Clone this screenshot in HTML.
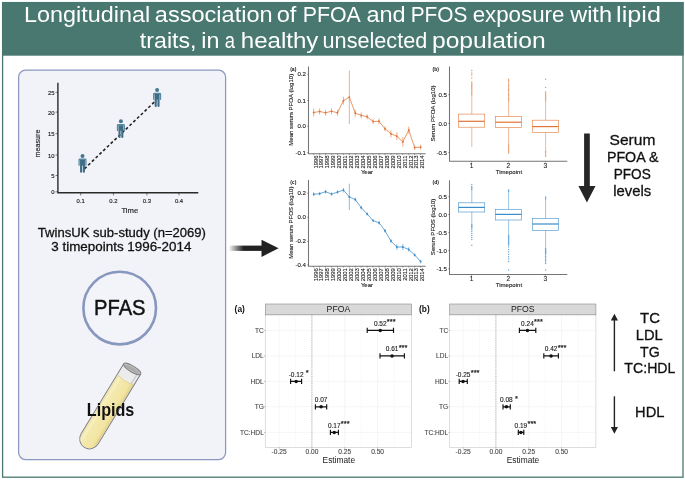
<!DOCTYPE html>
<html lang="en"><head><meta charset="utf-8"><title>Longitudinal association of PFOA and PFOS exposure with lipid traits</title>
<style>
html,body{margin:0;padding:0;background:#fff;}
body{width:685px;height:480px;overflow:hidden;}
svg{display:block;}
text{font-family:"Liberation Sans",sans-serif;}
.ax{font-size:6.15px;fill:#1a1a1a;stroke:#1a1a1a;stroke-width:0.12px;}
.axl{font-size:6.05px;fill:#1a1a1a;stroke:#1a1a1a;stroke-width:0.12px;}
.fl{font-size:6.6px;fill:#444;stroke:#444;stroke-width:0.1px;}
.fv{font-size:6.5px;fill:#1a1a1a;stroke:#1a1a1a;stroke-width:0.12px;}
</style></head><body>
<svg width="685" height="480" viewBox="0 0 685 480">
<defs>
<linearGradient id="fade" x1="0" x2="1" y1="0" y2="0"><stop offset="0" stop-color="#222" stop-opacity="0"/><stop offset="0.44" stop-color="#222" stop-opacity="1"/></linearGradient>
<linearGradient id="liq" x1="0" x2="1" y1="0" y2="0"><stop offset="0" stop-color="#efdf98"/><stop offset="0.14" stop-color="#f8f0c4"/><stop offset="0.3" stop-color="#f4e9ad"/><stop offset="0.8" stop-color="#f2e5a3"/><stop offset="1" stop-color="#e4d084"/></linearGradient>
</defs>
<rect x="0" y="0" width="685" height="480" fill="#fff"/>

<rect x="2.6" y="2.6" width="680.4" height="474.6" fill="none" stroke="#48786f" stroke-width="1.3"/>
<rect x="2" y="2" width="681.6" height="53.7" fill="#48786f"/>
<text x="24.10" y="22.1" font-size="22.8" fill="#fff" textLength="126.12" lengthAdjust="spacingAndGlyphs">Longitudinal</text>
<text x="154.89" y="22.1" font-size="22.8" fill="#fff" textLength="117.69" lengthAdjust="spacingAndGlyphs">association</text>
<text x="276.69" y="22.1" font-size="22.8" fill="#fff" textLength="19.74" lengthAdjust="spacingAndGlyphs">of</text>
<text x="302.71" y="22.1" font-size="22.8" fill="#fff" textLength="58.12" lengthAdjust="spacingAndGlyphs">PFOA</text>
<text x="366.40" y="22.1" font-size="22.8" fill="#fff" textLength="39.29" lengthAdjust="spacingAndGlyphs">and</text>
<text x="410.72" y="22.1" font-size="22.8" fill="#fff" textLength="56.71" lengthAdjust="spacingAndGlyphs">PFOS</text>
<text x="472.63" y="22.1" font-size="22.8" fill="#fff" textLength="91.76" lengthAdjust="spacingAndGlyphs">exposure</text>
<text x="570.16" y="22.1" font-size="22.8" fill="#fff" textLength="41.83" lengthAdjust="spacingAndGlyphs">with</text>
<text x="616.10" y="22.1" font-size="22.8" fill="#fff" textLength="44.80" lengthAdjust="spacingAndGlyphs">lipid</text>
<text x="139.87" y="47.6" font-size="22.8" fill="#fff" textLength="56.67" lengthAdjust="spacingAndGlyphs">traits,</text>
<text x="201.37" y="47.6" font-size="22.8" fill="#fff" textLength="18.14" lengthAdjust="spacingAndGlyphs">in</text>
<text x="224.67" y="47.6" font-size="22.8" fill="#fff" textLength="10.23" lengthAdjust="spacingAndGlyphs">a</text>
<text x="240.75" y="47.6" font-size="22.8" fill="#fff" textLength="77.67" lengthAdjust="spacingAndGlyphs">healthy</text>
<text x="322.57" y="47.6" font-size="22.8" fill="#fff" textLength="104.71" lengthAdjust="spacingAndGlyphs">unselected</text>
<text x="431.98" y="47.6" font-size="22.8" fill="#fff" textLength="113.71" lengthAdjust="spacingAndGlyphs">population</text>
<rect x="18.6" y="70.2" width="207" height="389.4" rx="7" ry="7" fill="#f2f3f9" stroke="#8a97c0" stroke-width="1.25"/>
<g stroke="#2a2a2a" stroke-width="1.4" fill="none"><path d="M57.9 82.7V192.8H198.3"/></g>
<path d="M80.7 193v2.4M113.4 193v2.4M146.9 193v2.4M179 193v2.4" stroke="#2a2a2a" stroke-width="0.6" fill="none"/>
<path d="M55.5 92.3H57.9" stroke="#2a2a2a" stroke-width="0.6"/>
<text x="54.6" y="94.89999999999999" text-anchor="end" font-size="5.9" fill="#222" stroke="#222" stroke-width="0.15">25</text>
<path d="M55.5 112.1H57.9" stroke="#2a2a2a" stroke-width="0.6"/>
<text x="54.6" y="114.69999999999999" text-anchor="end" font-size="5.9" fill="#222" stroke="#222" stroke-width="0.15">20</text>
<path d="M55.5 133.7H57.9" stroke="#2a2a2a" stroke-width="0.6"/>
<text x="54.6" y="136.29999999999998" text-anchor="end" font-size="5.9" fill="#222" stroke="#222" stroke-width="0.15">15</text>
<path d="M55.5 155H57.9" stroke="#2a2a2a" stroke-width="0.6"/>
<text x="54.6" y="157.6" text-anchor="end" font-size="5.9" fill="#222" stroke="#222" stroke-width="0.15">10</text>
<path d="M55.5 175.5H57.9" stroke="#2a2a2a" stroke-width="0.6"/>
<text x="54.6" y="178.1" text-anchor="end" font-size="5.9" fill="#222" stroke="#222" stroke-width="0.15">5</text>
<path d="M55.5 191.8H57.9" stroke="#2a2a2a" stroke-width="0.6"/>
<text x="54.6" y="194.4" text-anchor="end" font-size="5.9" fill="#222" stroke="#222" stroke-width="0.15">0</text>
<text x="80.7" y="203.4" text-anchor="middle" font-size="5.9" fill="#222" stroke="#222" stroke-width="0.15">0.1</text>
<text x="113.4" y="203.4" text-anchor="middle" font-size="5.9" fill="#222" stroke="#222" stroke-width="0.15">0.2</text>
<text x="146.9" y="203.4" text-anchor="middle" font-size="5.9" fill="#222" stroke="#222" stroke-width="0.15">0.3</text>
<text x="179" y="203.4" text-anchor="middle" font-size="5.9" fill="#222" stroke="#222" stroke-width="0.15">0.4</text>
<text x="129.8" y="213.4" text-anchor="middle" font-size="7.7" fill="#222" stroke="#222" stroke-width="0.15">Time</text>
<text transform="translate(40.2 143.6) rotate(-90)" text-anchor="middle" font-size="7.2" fill="#222" stroke="#222" stroke-width="0.15">measure</text>
<path d="M84.4 168.8L156.3 100.2" stroke="#222" stroke-width="1.6" stroke-dasharray="2.9 2.3" fill="none"/>
<g transform="translate(82.5 154.00)"><circle cx="0" cy="2" r="2" fill="#47778f"/><path d="M-4.05 5.9q0-1.3 1.3-1.3h5.5q1.3 0 1.3 1.3v5.3q0 .65-.65.65t-.65-.65v-4.9h-5.5v4.9q0 .65-.65.65t-.65-.65z" fill="#5989a3"/><path d="M-2.45 6h4.9v11.8q0 1-1.05 1t-1.05-1v-6.3h-.7v6.3q0 1-1.05 1t-1.05-1z" fill="#3f6d85"/></g>
<g transform="translate(120.9 119.30)"><circle cx="0" cy="2" r="2" fill="#47778f"/><path d="M-4.05 5.9q0-1.3 1.3-1.3h5.5q1.3 0 1.3 1.3v5.3q0 .65-.65.65t-.65-.65v-4.9h-5.5v4.9q0 .65-.65.65t-.65-.65z" fill="#5989a3"/><path d="M-2.45 6h4.9v11.8q0 1-1.05 1t-1.05-1v-6.3h-.7v6.3q0 1-1.05 1t-1.05-1z" fill="#3f6d85"/></g>
<g transform="translate(157.1 88.10)"><circle cx="0" cy="2" r="2" fill="#47778f"/><path d="M-4.05 5.9q0-1.3 1.3-1.3h5.5q1.3 0 1.3 1.3v5.3q0 .65-.65.65t-.65-.65v-4.9h-5.5v4.9q0 .65-.65.65t-.65-.65z" fill="#5989a3"/><path d="M-2.45 6h4.9v11.8q0 1-1.05 1t-1.05-1v-6.3h-.7v6.3q0 1-1.05 1t-1.05-1z" fill="#3f6d85"/></g>
<text x="37.86" y="237.2" font-size="13.6" fill="#111" stroke="#111" stroke-width="0.3" textLength="168.09" lengthAdjust="spacingAndGlyphs">TwinsUK sub-study (n=2069)</text>
<text x="51.34" y="251.0" font-size="13.6" fill="#111" stroke="#111" stroke-width="0.3" textLength="140.07" lengthAdjust="spacingAndGlyphs">3 timepoints 1996-2014</text>
<circle cx="119.7" cy="308.1" r="36.3" fill="#f3f4fa" stroke="#8797be" stroke-width="2.6"/>
<text x="94.02" y="314.5" font-size="22" fill="#111" stroke="#111" stroke-width="0.45" textLength="51.52" lengthAdjust="spacingAndGlyphs">PFAS</text>
<g transform="translate(132.2 368.9) rotate(31.3)">
<path d="M-9.9 0V82a9.9 9.9 0 0 0 19.8 0V0z" fill="#ececec" stroke="#808080" stroke-width="1"/>
<path d="M-9.2 12.5q9.2 3.2 18.4 0V82a9.2 9.2 0 0 1-18.4 0z" fill="url(#liq)"/>
<path d="M-9.2 12.5q9.2 3.2 18.4 0" fill="none" stroke="#dccb80" stroke-width="0.6"/>
<path d="M6.9 3V13.5" stroke="#cfcfcf" stroke-width="1.6"/>
<ellipse cx="0" cy="0" rx="9.9" ry="3" fill="#c4c4c4" stroke="#808080" stroke-width="1"/>
<ellipse cx="0" cy="0.2" rx="8.2" ry="1.8" fill="#ababab"/>
</g>
<text x="86.80" y="415.5" font-size="17.8" fill="#111" font-weight="bold" textLength="47.52" lengthAdjust="spacingAndGlyphs">Lipids</text>
<rect x="228.7" y="245.6" width="34" height="5.3" fill="url(#fade)"/>
<path d="M261.5 239.8L278.6 248.3L261.5 256.9z" fill="#222"/>
<path d="M584.1 133.5H589.8V186H595.5L586.9 202.6L578.4 186H584.1z" fill="#262626"/>
<text x="609.57" y="145.3" font-size="15.4" fill="#111" stroke="#111" stroke-width="0.3" textLength="45.82" lengthAdjust="spacingAndGlyphs">Serum</text>
<text x="606.92" y="162.3" font-size="15.4" fill="#111" stroke="#111" stroke-width="0.3" textLength="51.50" lengthAdjust="spacingAndGlyphs">PFOA &amp;</text>
<text x="613.72" y="179" font-size="15.4" fill="#111" stroke="#111" stroke-width="0.3" textLength="37.06" lengthAdjust="spacingAndGlyphs">PFOS</text>
<text x="613.28" y="195.6" font-size="15.4" fill="#111" stroke="#111" stroke-width="0.3" textLength="38.03" lengthAdjust="spacingAndGlyphs">levels</text>
<g stroke="#222" stroke-width="1.4" fill="#222"><path d="M614.4 318V371.3" fill="none"/><path d="M614.4 313.8L618 320.5H610.8z" stroke="none"/><path d="M614.4 396.3V429.5" fill="none"/><path d="M614.4 433.8L618 427H610.8z" stroke="none"/></g>
<text x="640.04" y="322.8" font-size="15.4" fill="#111" stroke="#111" stroke-width="0.3" textLength="19.90" lengthAdjust="spacingAndGlyphs">TC</text>
<text x="635.79" y="339.9" font-size="15.4" fill="#111" stroke="#111" stroke-width="0.3" textLength="27.00" lengthAdjust="spacingAndGlyphs">LDL</text>
<text x="640.00" y="356.7" font-size="15.4" fill="#111" stroke="#111" stroke-width="0.3" textLength="19.65" lengthAdjust="spacingAndGlyphs">TG</text>
<text x="624.37" y="373.1" font-size="15.4" fill="#111" stroke="#111" stroke-width="0.3" textLength="51.05" lengthAdjust="spacingAndGlyphs">TC:HDL</text>
<text x="635.11" y="416.9" font-size="15.4" fill="#111" stroke="#111" stroke-width="0.3" textLength="29.40" lengthAdjust="spacingAndGlyphs">HDL</text>
<path d="M308.5 66.6V153.7H425.6" stroke="#757575" stroke-width="1.05" fill="none"/>
<path d="M307.0 74.2H308.5" stroke="#333" stroke-width="0.4"/>
<text x="306.0" y="76.3" text-anchor="end" class="ax">0.2</text>
<path d="M307.0 100.5H308.5" stroke="#333" stroke-width="0.4"/>
<text x="306.0" y="102.6" text-anchor="end" class="ax">0.1</text>
<path d="M307.0 126.3H308.5" stroke="#333" stroke-width="0.4"/>
<text x="306.0" y="128.4" text-anchor="end" class="ax">0.0</text>
<path d="M307.0 152.6H308.5" stroke="#333" stroke-width="0.4"/>
<text x="306.0" y="154.7" text-anchor="end" class="ax">-0.1</text>
<path d="M313.70 153.7v1.4" stroke="#333" stroke-width="0.4"/>
<text transform="translate(317.50 155.6) rotate(-90)" text-anchor="end" class="ax" style="font-size:5.85px">1996</text>
<path d="M319.64 153.7v1.4" stroke="#333" stroke-width="0.4"/>
<text transform="translate(323.44 155.6) rotate(-90)" text-anchor="end" class="ax" style="font-size:5.85px">1997</text>
<path d="M325.58 153.7v1.4" stroke="#333" stroke-width="0.4"/>
<text transform="translate(329.38 155.6) rotate(-90)" text-anchor="end" class="ax" style="font-size:5.85px">1998</text>
<path d="M331.52 153.7v1.4" stroke="#333" stroke-width="0.4"/>
<text transform="translate(335.32 155.6) rotate(-90)" text-anchor="end" class="ax" style="font-size:5.85px">1999</text>
<path d="M337.46 153.7v1.4" stroke="#333" stroke-width="0.4"/>
<text transform="translate(341.26 155.6) rotate(-90)" text-anchor="end" class="ax" style="font-size:5.85px">2000</text>
<path d="M343.40 153.7v1.4" stroke="#333" stroke-width="0.4"/>
<text transform="translate(347.20 155.6) rotate(-90)" text-anchor="end" class="ax" style="font-size:5.85px">2001</text>
<path d="M349.34 153.7v1.4" stroke="#333" stroke-width="0.4"/>
<text transform="translate(353.14 155.6) rotate(-90)" text-anchor="end" class="ax" style="font-size:5.85px">2002</text>
<path d="M355.28 153.7v1.4" stroke="#333" stroke-width="0.4"/>
<text transform="translate(359.08 155.6) rotate(-90)" text-anchor="end" class="ax" style="font-size:5.85px">2003</text>
<path d="M361.22 153.7v1.4" stroke="#333" stroke-width="0.4"/>
<text transform="translate(365.02 155.6) rotate(-90)" text-anchor="end" class="ax" style="font-size:5.85px">2004</text>
<path d="M367.16 153.7v1.4" stroke="#333" stroke-width="0.4"/>
<text transform="translate(370.96 155.6) rotate(-90)" text-anchor="end" class="ax" style="font-size:5.85px">2005</text>
<path d="M373.10 153.7v1.4" stroke="#333" stroke-width="0.4"/>
<text transform="translate(376.90 155.6) rotate(-90)" text-anchor="end" class="ax" style="font-size:5.85px">2006</text>
<path d="M379.04 153.7v1.4" stroke="#333" stroke-width="0.4"/>
<text transform="translate(382.84 155.6) rotate(-90)" text-anchor="end" class="ax" style="font-size:5.85px">2007</text>
<path d="M384.98 153.7v1.4" stroke="#333" stroke-width="0.4"/>
<text transform="translate(388.78 155.6) rotate(-90)" text-anchor="end" class="ax" style="font-size:5.85px">2008</text>
<path d="M390.92 153.7v1.4" stroke="#333" stroke-width="0.4"/>
<text transform="translate(394.72 155.6) rotate(-90)" text-anchor="end" class="ax" style="font-size:5.85px">2009</text>
<path d="M396.86 153.7v1.4" stroke="#333" stroke-width="0.4"/>
<text transform="translate(400.66 155.6) rotate(-90)" text-anchor="end" class="ax" style="font-size:5.85px">2010</text>
<path d="M402.80 153.7v1.4" stroke="#333" stroke-width="0.4"/>
<text transform="translate(406.60 155.6) rotate(-90)" text-anchor="end" class="ax" style="font-size:5.85px">2011</text>
<path d="M408.74 153.7v1.4" stroke="#333" stroke-width="0.4"/>
<text transform="translate(412.54 155.6) rotate(-90)" text-anchor="end" class="ax" style="font-size:5.85px">2012</text>
<path d="M414.68 153.7v1.4" stroke="#333" stroke-width="0.4"/>
<text transform="translate(418.48 155.6) rotate(-90)" text-anchor="end" class="ax" style="font-size:5.85px">2013</text>
<path d="M420.62 153.7v1.4" stroke="#333" stroke-width="0.4"/>
<text transform="translate(424.42 155.6) rotate(-90)" text-anchor="end" class="ax" style="font-size:5.85px">2014</text>
<text x="367" y="173.8" text-anchor="middle" class="axl">Year</text>
<text transform="translate(292.7 109.74999999999999) rotate(-90)" text-anchor="middle" class="axl">Mean serum PFOA (log10)</text>
<text x="290.2" y="70.5" font-size="5" font-weight="bold" fill="#111">(a)</text>
<path d="M313.70 112.55L319.64 111.46L325.58 112.77L331.52 111.24L337.46 112.77L343.40 100.73L349.34 97.22L355.28 113.21L361.22 115.40L367.16 116.71L373.10 121.53L379.04 121.31L384.98 128.75L390.92 133.79L396.86 136.20L402.80 141.89L408.74 130.07L414.68 147.58L420.62 147.15" stroke="#e17538" stroke-width="0.75" fill="none"/>
<path d="M313.70 108.55V116.55M319.64 108.46V114.46M325.58 109.77V115.77M331.52 108.24V114.24M337.46 109.77V115.77M343.40 96.73V104.73M349.34 70.52V123.92M355.28 109.71V116.71M361.22 112.40V118.40M367.16 114.21V119.21M373.10 119.03V124.03M379.04 118.31V124.31M384.98 126.25V131.25M390.92 130.29V137.29M396.86 132.20V140.20M402.80 136.89V146.89M408.74 126.57V133.57M414.68 145.08V150.08M420.62 144.65V149.65" stroke="#e17538" stroke-width="0.7" fill="none" opacity="0.85"/>
<g fill="#e17538"><circle cx="313.70" cy="112.55" r="0.95"/><circle cx="319.64" cy="111.46" r="0.95"/><circle cx="325.58" cy="112.77" r="0.95"/><circle cx="331.52" cy="111.24" r="0.95"/><circle cx="337.46" cy="112.77" r="0.95"/><circle cx="343.40" cy="100.73" r="0.95"/><circle cx="349.34" cy="97.22" r="0.95"/><circle cx="355.28" cy="113.21" r="0.95"/><circle cx="361.22" cy="115.40" r="0.95"/><circle cx="367.16" cy="116.71" r="0.95"/><circle cx="373.10" cy="121.53" r="0.95"/><circle cx="379.04" cy="121.31" r="0.95"/><circle cx="384.98" cy="128.75" r="0.95"/><circle cx="390.92" cy="133.79" r="0.95"/><circle cx="396.86" cy="136.20" r="0.95"/><circle cx="402.80" cy="141.89" r="0.95"/><circle cx="408.74" cy="130.07" r="0.95"/><circle cx="414.68" cy="147.58" r="0.95"/><circle cx="420.62" cy="147.15" r="0.95"/></g>
<path d="M308.5 179.9V266.3H425.6" stroke="#757575" stroke-width="1.05" fill="none"/>
<path d="M307.0 193.2H308.5" stroke="#333" stroke-width="0.4"/>
<text x="306.0" y="195.29999999999998" text-anchor="end" class="ax">0.2</text>
<path d="M307.0 217.2H308.5" stroke="#333" stroke-width="0.4"/>
<text x="306.0" y="219.29999999999998" text-anchor="end" class="ax">0.0</text>
<path d="M307.0 241.3H308.5" stroke="#333" stroke-width="0.4"/>
<text x="306.0" y="243.4" text-anchor="end" class="ax">-0.2</text>
<path d="M307.0 265H308.5" stroke="#333" stroke-width="0.4"/>
<text x="306.0" y="267.1" text-anchor="end" class="ax">-0.4</text>
<path d="M313.70 266.3v1.4" stroke="#333" stroke-width="0.4"/>
<text transform="translate(317.50 268.2) rotate(-90)" text-anchor="end" class="ax" style="font-size:5.85px">1996</text>
<path d="M319.64 266.3v1.4" stroke="#333" stroke-width="0.4"/>
<text transform="translate(323.44 268.2) rotate(-90)" text-anchor="end" class="ax" style="font-size:5.85px">1997</text>
<path d="M325.58 266.3v1.4" stroke="#333" stroke-width="0.4"/>
<text transform="translate(329.38 268.2) rotate(-90)" text-anchor="end" class="ax" style="font-size:5.85px">1998</text>
<path d="M331.52 266.3v1.4" stroke="#333" stroke-width="0.4"/>
<text transform="translate(335.32 268.2) rotate(-90)" text-anchor="end" class="ax" style="font-size:5.85px">1999</text>
<path d="M337.46 266.3v1.4" stroke="#333" stroke-width="0.4"/>
<text transform="translate(341.26 268.2) rotate(-90)" text-anchor="end" class="ax" style="font-size:5.85px">2000</text>
<path d="M343.40 266.3v1.4" stroke="#333" stroke-width="0.4"/>
<text transform="translate(347.20 268.2) rotate(-90)" text-anchor="end" class="ax" style="font-size:5.85px">2001</text>
<path d="M349.34 266.3v1.4" stroke="#333" stroke-width="0.4"/>
<text transform="translate(353.14 268.2) rotate(-90)" text-anchor="end" class="ax" style="font-size:5.85px">2002</text>
<path d="M355.28 266.3v1.4" stroke="#333" stroke-width="0.4"/>
<text transform="translate(359.08 268.2) rotate(-90)" text-anchor="end" class="ax" style="font-size:5.85px">2003</text>
<path d="M361.22 266.3v1.4" stroke="#333" stroke-width="0.4"/>
<text transform="translate(365.02 268.2) rotate(-90)" text-anchor="end" class="ax" style="font-size:5.85px">2004</text>
<path d="M367.16 266.3v1.4" stroke="#333" stroke-width="0.4"/>
<text transform="translate(370.96 268.2) rotate(-90)" text-anchor="end" class="ax" style="font-size:5.85px">2005</text>
<path d="M373.10 266.3v1.4" stroke="#333" stroke-width="0.4"/>
<text transform="translate(376.90 268.2) rotate(-90)" text-anchor="end" class="ax" style="font-size:5.85px">2006</text>
<path d="M379.04 266.3v1.4" stroke="#333" stroke-width="0.4"/>
<text transform="translate(382.84 268.2) rotate(-90)" text-anchor="end" class="ax" style="font-size:5.85px">2007</text>
<path d="M384.98 266.3v1.4" stroke="#333" stroke-width="0.4"/>
<text transform="translate(388.78 268.2) rotate(-90)" text-anchor="end" class="ax" style="font-size:5.85px">2008</text>
<path d="M390.92 266.3v1.4" stroke="#333" stroke-width="0.4"/>
<text transform="translate(394.72 268.2) rotate(-90)" text-anchor="end" class="ax" style="font-size:5.85px">2009</text>
<path d="M396.86 266.3v1.4" stroke="#333" stroke-width="0.4"/>
<text transform="translate(400.66 268.2) rotate(-90)" text-anchor="end" class="ax" style="font-size:5.85px">2010</text>
<path d="M402.80 266.3v1.4" stroke="#333" stroke-width="0.4"/>
<text transform="translate(406.60 268.2) rotate(-90)" text-anchor="end" class="ax" style="font-size:5.85px">2011</text>
<path d="M408.74 266.3v1.4" stroke="#333" stroke-width="0.4"/>
<text transform="translate(412.54 268.2) rotate(-90)" text-anchor="end" class="ax" style="font-size:5.85px">2012</text>
<path d="M414.68 266.3v1.4" stroke="#333" stroke-width="0.4"/>
<text transform="translate(418.48 268.2) rotate(-90)" text-anchor="end" class="ax" style="font-size:5.85px">2013</text>
<path d="M420.62 266.3v1.4" stroke="#333" stroke-width="0.4"/>
<text transform="translate(424.42 268.2) rotate(-90)" text-anchor="end" class="ax" style="font-size:5.85px">2014</text>
<text x="367" y="287" text-anchor="middle" class="axl">Year</text>
<text transform="translate(292.7 222.70000000000002) rotate(-90)" text-anchor="middle" class="axl">Mean serum PFOS (log10)</text>
<text x="290.2" y="183.8" font-size="5" font-weight="bold" fill="#111">(c)</text>
<path d="M313.70 194.30L319.64 193.65L325.58 191.68L331.52 194.08L337.46 192.11L343.40 190.14L349.34 196.93L355.28 199.56L361.22 207.66L367.16 214.01L373.10 220.58L379.04 222.77L384.98 230.70L390.92 241.00L396.86 247.00L402.80 247.00L408.74 249.50L414.68 255.00L420.62 261.50" stroke="#3a8dcc" stroke-width="0.75" fill="none"/>
<path d="M313.70 192.30V196.30M319.64 191.85V195.45M325.58 189.88V193.48M331.52 192.28V195.88M337.46 190.31V193.91M343.40 187.84V192.44M349.34 183.73V210.13M355.28 197.56V201.56M361.22 205.86V209.46M367.16 212.41V215.61M373.10 218.98V222.18M379.04 220.97V224.57M384.98 228.90V232.50M390.92 238.80V243.20M396.86 244.20V249.80M402.80 244.00V250.00M408.74 247.30V251.70M414.68 253.40V256.60M420.62 259.70V263.30" stroke="#3a8dcc" stroke-width="0.7" fill="none" opacity="0.85"/>
<g fill="#3a8dcc"><circle cx="313.70" cy="194.30" r="0.95"/><circle cx="319.64" cy="193.65" r="0.95"/><circle cx="325.58" cy="191.68" r="0.95"/><circle cx="331.52" cy="194.08" r="0.95"/><circle cx="337.46" cy="192.11" r="0.95"/><circle cx="343.40" cy="190.14" r="0.95"/><circle cx="349.34" cy="196.93" r="0.95"/><circle cx="355.28" cy="199.56" r="0.95"/><circle cx="361.22" cy="207.66" r="0.95"/><circle cx="367.16" cy="214.01" r="0.95"/><circle cx="373.10" cy="220.58" r="0.95"/><circle cx="379.04" cy="222.77" r="0.95"/><circle cx="384.98" cy="230.70" r="0.95"/><circle cx="390.92" cy="241.00" r="0.95"/><circle cx="396.86" cy="247.00" r="0.95"/><circle cx="402.80" cy="247.00" r="0.95"/><circle cx="408.74" cy="249.50" r="0.95"/><circle cx="414.68" cy="255.00" r="0.95"/><circle cx="420.62" cy="261.50" r="0.95"/></g>
<path d="M449.5 66.6V161.2H567.3" stroke="#757575" stroke-width="1.05" fill="none"/>
<path d="M448.0 94.6H449.5" stroke="#333" stroke-width="0.4"/>
<text x="447.0" y="96.69999999999999" text-anchor="end" class="ax">0.5</text>
<path d="M448.0 123.5H449.5" stroke="#333" stroke-width="0.4"/>
<text x="447.0" y="125.6" text-anchor="end" class="ax">0.0</text>
<path d="M448.0 152.6H449.5" stroke="#333" stroke-width="0.4"/>
<text x="447.0" y="154.7" text-anchor="end" class="ax">-0.5</text>
<path d="M471.6 161.2v1.4" stroke="#333" stroke-width="0.4"/>
<text x="471.6" y="167.6" text-anchor="middle" font-size="6.6" fill="#1a1a1a" stroke="#1a1a1a" stroke-width="0.1">1</text>
<path d="M508.4 161.2v1.4" stroke="#333" stroke-width="0.4"/>
<text x="508.4" y="167.6" text-anchor="middle" font-size="6.6" fill="#1a1a1a" stroke="#1a1a1a" stroke-width="0.1">2</text>
<path d="M545.4 161.2v1.4" stroke="#333" stroke-width="0.4"/>
<text x="545.4" y="167.6" text-anchor="middle" font-size="6.6" fill="#1a1a1a" stroke="#1a1a1a" stroke-width="0.1">3</text>
<text x="508.9" y="173.6" text-anchor="middle" class="axl">Timepoint</text>
<text transform="translate(435.4 113.49999999999999) rotate(-90)" text-anchor="middle" class="axl">Serum PFOA (log10)</text>
<text x="432.5" y="70.5" font-size="5" font-weight="bold" fill="#111">(b)</text>
<path d="M471.8 95V114.1M471.8 127.2V147" stroke="#e17538" stroke-width="0.6" fill="none" opacity="0.85"/>
<rect x="458.5" y="114.1" width="26.2" height="13.10" fill="#fff" stroke="#e17538" stroke-width="0.65" opacity="0.9"/>
<path d="M458.5 121.3H484.70000000000005" stroke="#e17538" stroke-width="1.2"/>
<g fill="#e17538" opacity="0.75"><circle cx="471.8" cy="70.50" r="0.72"/><circle cx="471.8" cy="73.00" r="0.72"/><circle cx="471.8" cy="75.00" r="0.72"/><circle cx="471.8" cy="78.00" r="0.72"/><circle cx="471.8" cy="82.00" r="0.72"/><circle cx="471.8" cy="83.14" r="0.72"/><circle cx="471.8" cy="84.27" r="0.72"/><circle cx="471.8" cy="85.41" r="0.72"/><circle cx="471.8" cy="86.55" r="0.72"/><circle cx="471.8" cy="87.68" r="0.72"/><circle cx="471.8" cy="88.82" r="0.72"/><circle cx="471.8" cy="89.95" r="0.72"/><circle cx="471.8" cy="91.09" r="0.72"/><circle cx="471.8" cy="92.23" r="0.72"/><circle cx="471.8" cy="93.36" r="0.72"/><circle cx="471.8" cy="94.50" r="0.72"/></g>
<path d="M508.59999999999997 101.6V116.5M508.59999999999997 127.4V143.2" stroke="#e17538" stroke-width="0.6" fill="none" opacity="0.85"/>
<rect x="495.29999999999995" y="116.5" width="26.2" height="10.90" fill="#fff" stroke="#e17538" stroke-width="0.65" opacity="0.9"/>
<path d="M495.29999999999995 122.2H521.5" stroke="#e17538" stroke-width="1.2"/>
<g fill="#e17538" opacity="0.75"><circle cx="508.59999999999997" cy="79.30" r="0.72"/><circle cx="508.59999999999997" cy="80.65" r="0.72"/><circle cx="508.59999999999997" cy="82.00" r="0.72"/><circle cx="508.59999999999997" cy="84.00" r="0.72"/><circle cx="508.59999999999997" cy="85.31" r="0.72"/><circle cx="508.59999999999997" cy="86.62" r="0.72"/><circle cx="508.59999999999997" cy="87.92" r="0.72"/><circle cx="508.59999999999997" cy="89.23" r="0.72"/><circle cx="508.59999999999997" cy="90.54" r="0.72"/><circle cx="508.59999999999997" cy="91.85" r="0.72"/><circle cx="508.59999999999997" cy="93.15" r="0.72"/><circle cx="508.59999999999997" cy="94.46" r="0.72"/><circle cx="508.59999999999997" cy="95.77" r="0.72"/><circle cx="508.59999999999997" cy="97.08" r="0.72"/><circle cx="508.59999999999997" cy="98.38" r="0.72"/><circle cx="508.59999999999997" cy="99.69" r="0.72"/><circle cx="508.59999999999997" cy="101.00" r="0.72"/><circle cx="508.59999999999997" cy="144.00" r="0.72"/><circle cx="508.59999999999997" cy="145.33" r="0.72"/><circle cx="508.59999999999997" cy="146.67" r="0.72"/><circle cx="508.59999999999997" cy="148.00" r="0.72"/><circle cx="508.59999999999997" cy="149.00" r="0.72"/><circle cx="508.59999999999997" cy="150.00" r="0.72"/><circle cx="508.59999999999997" cy="151.00" r="0.72"/><circle cx="508.59999999999997" cy="152.00" r="0.72"/><circle cx="508.59999999999997" cy="153.00" r="0.72"/></g>
<path d="M545.6 101.6V120.2M545.6 132.5V150.9" stroke="#e17538" stroke-width="0.6" fill="none" opacity="0.85"/>
<rect x="532.3" y="120.2" width="26.2" height="12.30" fill="#fff" stroke="#e17538" stroke-width="0.65" opacity="0.9"/>
<path d="M532.3 126.6H558.5" stroke="#e17538" stroke-width="1.2"/>
<g fill="#e17538" opacity="0.75"><circle cx="545.6" cy="79.30" r="0.72"/><circle cx="545.6" cy="87.40" r="0.72"/><circle cx="545.6" cy="92.00" r="0.72"/><circle cx="545.6" cy="93.00" r="0.72"/><circle cx="545.6" cy="94.00" r="0.72"/><circle cx="545.6" cy="95.00" r="0.72"/><circle cx="545.6" cy="96.00" r="0.72"/><circle cx="545.6" cy="97.00" r="0.72"/><circle cx="545.6" cy="98.00" r="0.72"/><circle cx="545.6" cy="99.00" r="0.72"/><circle cx="545.6" cy="100.00" r="0.72"/><circle cx="545.6" cy="101.00" r="0.72"/><circle cx="545.6" cy="151.50" r="0.72"/><circle cx="545.6" cy="152.70" r="0.72"/><circle cx="545.6" cy="153.90" r="0.72"/><circle cx="545.6" cy="155.10" r="0.72"/><circle cx="545.6" cy="156.30" r="0.72"/></g>
<path d="M449.5 180.2V274.4H567.3" stroke="#757575" stroke-width="1.05" fill="none"/>
<path d="M448.0 196.6H449.5" stroke="#333" stroke-width="0.4"/>
<text x="447.0" y="198.7" text-anchor="end" class="ax">0.5</text>
<path d="M448.0 214.5H449.5" stroke="#333" stroke-width="0.4"/>
<text x="447.0" y="216.6" text-anchor="end" class="ax">0.0</text>
<path d="M448.0 232.6H449.5" stroke="#333" stroke-width="0.4"/>
<text x="447.0" y="234.7" text-anchor="end" class="ax">-0.5</text>
<path d="M448.0 250.6H449.5" stroke="#333" stroke-width="0.4"/>
<text x="447.0" y="252.7" text-anchor="end" class="ax">-1.0</text>
<path d="M448.0 268.8H449.5" stroke="#333" stroke-width="0.4"/>
<text x="447.0" y="270.90000000000003" text-anchor="end" class="ax">-1.5</text>
<path d="M471.6 274.4v1.4" stroke="#333" stroke-width="0.4"/>
<text x="471.6" y="280.79999999999995" text-anchor="middle" font-size="6.6" fill="#1a1a1a" stroke="#1a1a1a" stroke-width="0.1">1</text>
<path d="M508.4 274.4v1.4" stroke="#333" stroke-width="0.4"/>
<text x="508.4" y="280.79999999999995" text-anchor="middle" font-size="6.6" fill="#1a1a1a" stroke="#1a1a1a" stroke-width="0.1">2</text>
<path d="M545.4 274.4v1.4" stroke="#333" stroke-width="0.4"/>
<text x="545.4" y="280.79999999999995" text-anchor="middle" font-size="6.6" fill="#1a1a1a" stroke="#1a1a1a" stroke-width="0.1">3</text>
<text x="508.9" y="286.8" text-anchor="middle" class="axl">Timepoint</text>
<text transform="translate(435.4 226.89999999999998) rotate(-90)" text-anchor="middle" class="axl">Serum PFOS (log10)</text>
<text x="432.5" y="184.1" font-size="5" font-weight="bold" fill="#111">(d)</text>
<path d="M471.8 189.9V202.8M471.8 212V224.1" stroke="#3a8dcc" stroke-width="0.6" fill="none" opacity="0.85"/>
<rect x="458.5" y="202.8" width="26.2" height="9.20" fill="#fff" stroke="#3a8dcc" stroke-width="0.65" opacity="0.9"/>
<path d="M458.5 207.4H484.70000000000005" stroke="#3a8dcc" stroke-width="1.2"/>
<g fill="#3a8dcc" opacity="0.75"><circle cx="471.8" cy="184.40" r="0.72"/><circle cx="471.8" cy="186.50" r="0.72"/><circle cx="471.8" cy="187.50" r="0.72"/><circle cx="471.8" cy="188.50" r="0.72"/><circle cx="471.8" cy="189.50" r="0.72"/><circle cx="471.8" cy="224.50" r="0.72"/><circle cx="471.8" cy="225.20" r="0.72"/><circle cx="471.8" cy="225.90" r="0.72"/><circle cx="471.8" cy="226.60" r="0.72"/><circle cx="471.8" cy="227.30" r="0.72"/><circle cx="471.8" cy="228.00" r="0.72"/><circle cx="471.8" cy="229.50" r="0.72"/><circle cx="471.8" cy="231.50" r="0.72"/><circle cx="471.8" cy="233.50" r="0.72"/><circle cx="471.8" cy="235.50" r="0.72"/><circle cx="471.8" cy="237.50" r="0.72"/><circle cx="471.8" cy="239.50" r="0.72"/><circle cx="471.8" cy="245.30" r="0.72"/></g>
<path d="M508.59999999999997 191.6V209.3M508.59999999999997 220V235" stroke="#3a8dcc" stroke-width="0.6" fill="none" opacity="0.85"/>
<rect x="495.29999999999995" y="209.3" width="26.2" height="10.70" fill="#fff" stroke="#3a8dcc" stroke-width="0.65" opacity="0.9"/>
<path d="M495.29999999999995 214.4H521.5" stroke="#3a8dcc" stroke-width="1.2"/>
<g fill="#3a8dcc" opacity="0.75"><circle cx="508.59999999999997" cy="190.00" r="0.72"/><circle cx="508.59999999999997" cy="190.75" r="0.72"/><circle cx="508.59999999999997" cy="191.50" r="0.72"/><circle cx="508.59999999999997" cy="235.50" r="0.72"/><circle cx="508.59999999999997" cy="236.23" r="0.72"/><circle cx="508.59999999999997" cy="236.96" r="0.72"/><circle cx="508.59999999999997" cy="237.69" r="0.72"/><circle cx="508.59999999999997" cy="238.42" r="0.72"/><circle cx="508.59999999999997" cy="239.15" r="0.72"/><circle cx="508.59999999999997" cy="239.88" r="0.72"/><circle cx="508.59999999999997" cy="240.62" r="0.72"/><circle cx="508.59999999999997" cy="241.35" r="0.72"/><circle cx="508.59999999999997" cy="242.08" r="0.72"/><circle cx="508.59999999999997" cy="242.81" r="0.72"/><circle cx="508.59999999999997" cy="243.54" r="0.72"/><circle cx="508.59999999999997" cy="244.27" r="0.72"/><circle cx="508.59999999999997" cy="245.00" r="0.72"/><circle cx="508.59999999999997" cy="247.00" r="0.72"/><circle cx="508.59999999999997" cy="249.42" r="0.72"/><circle cx="508.59999999999997" cy="251.83" r="0.72"/><circle cx="508.59999999999997" cy="254.25" r="0.72"/><circle cx="508.59999999999997" cy="256.67" r="0.72"/><circle cx="508.59999999999997" cy="259.08" r="0.72"/><circle cx="508.59999999999997" cy="261.50" r="0.72"/><circle cx="508.59999999999997" cy="270.00" r="0.72"/></g>
<path d="M545.6 199.3V218.5M545.6 230.4V248.2" stroke="#3a8dcc" stroke-width="0.6" fill="none" opacity="0.85"/>
<rect x="532.3" y="218.5" width="26.2" height="11.90" fill="#fff" stroke="#3a8dcc" stroke-width="0.65" opacity="0.9"/>
<path d="M532.3 224H558.5" stroke="#3a8dcc" stroke-width="1.2"/>
<g fill="#3a8dcc" opacity="0.75"><circle cx="545.6" cy="197.00" r="0.72"/><circle cx="545.6" cy="198.00" r="0.72"/><circle cx="545.6" cy="199.00" r="0.72"/><circle cx="545.6" cy="248.50" r="0.72"/><circle cx="545.6" cy="249.11" r="0.72"/><circle cx="545.6" cy="249.72" r="0.72"/><circle cx="545.6" cy="250.33" r="0.72"/><circle cx="545.6" cy="250.94" r="0.72"/><circle cx="545.6" cy="251.56" r="0.72"/><circle cx="545.6" cy="252.17" r="0.72"/><circle cx="545.6" cy="252.78" r="0.72"/><circle cx="545.6" cy="253.39" r="0.72"/><circle cx="545.6" cy="254.00" r="0.72"/><circle cx="545.6" cy="255.00" r="0.72"/><circle cx="545.6" cy="256.42" r="0.72"/><circle cx="545.6" cy="257.83" r="0.72"/><circle cx="545.6" cy="259.25" r="0.72"/><circle cx="545.6" cy="260.67" r="0.72"/><circle cx="545.6" cy="262.08" r="0.72"/><circle cx="545.6" cy="263.50" r="0.72"/><circle cx="545.6" cy="270.00" r="0.72"/></g>
<rect x="265.3" y="314.8" width="146.3" height="132.59999999999997" fill="#fff" stroke="#cfcfcf" stroke-width="0.7"/>
<path d="M279.05 314.8V447.4M311.90 314.8V447.4M344.75 314.8V447.4M377.60 314.8V447.4M265.3 330.4H411.6M265.3 355.9H411.6M265.3 381.4H411.6M265.3 406.8H411.6M265.3 432.4H411.6" stroke="#ececec" stroke-width="0.5" fill="none"/>
<path d="M295.47 314.8V447.4M328.32 314.8V447.4M361.17 314.8V447.4M394.02 314.8V447.4" stroke="#f3f3f3" stroke-width="0.4" fill="none"/>
<path d="M311.9 314.8V447.4" stroke="#808080" stroke-width="0.7" stroke-dasharray="0.8 1"/>
<rect x="265.3" y="304" width="146.3" height="10.800000000000011" fill="#d9d9d9" stroke="#8a8a8a" stroke-width="0.6"/>
<text x="338.45000000000005" y="312.2" text-anchor="middle" font-size="8.7" fill="#1a1a1a">PFOA</text>
<text x="234.6" y="312.2" font-size="8.4" font-weight="bold" fill="#111">(a)</text>
<text x="263.8" y="332.79999999999995" text-anchor="end" class="fl">TC</text>
<path d="M264.0 330.4H265.3" stroke="#555" stroke-width="0.4"/>
<text x="263.8" y="358.29999999999995" text-anchor="end" class="fl">LDL</text>
<path d="M264.0 355.9H265.3" stroke="#555" stroke-width="0.4"/>
<text x="263.8" y="383.79999999999995" text-anchor="end" class="fl">HDL</text>
<path d="M264.0 381.4H265.3" stroke="#555" stroke-width="0.4"/>
<text x="263.8" y="409.2" text-anchor="end" class="fl">TG</text>
<path d="M264.0 406.8H265.3" stroke="#555" stroke-width="0.4"/>
<text x="263.8" y="434.79999999999995" text-anchor="end" class="fl">TC:HDL</text>
<path d="M264.0 432.4H265.3" stroke="#555" stroke-width="0.4"/>
<path d="M279.05 447.4v1.3" stroke="#555" stroke-width="0.4"/>
<text x="279.05" y="454.2" text-anchor="middle" class="fl">-0.25</text>
<path d="M311.90 447.4v1.3" stroke="#555" stroke-width="0.4"/>
<text x="311.90" y="454.2" text-anchor="middle" class="fl">0.00</text>
<path d="M344.75 447.4v1.3" stroke="#555" stroke-width="0.4"/>
<text x="344.75" y="454.2" text-anchor="middle" class="fl">0.25</text>
<path d="M377.60 447.4v1.3" stroke="#555" stroke-width="0.4"/>
<text x="377.60" y="454.2" text-anchor="middle" class="fl">0.50</text>
<text x="338.8" y="462.59999999999997" text-anchor="middle" font-size="8.35" fill="#1a1a1a">Estimate</text>
<path d="M367.2 330.4H393.5M367.2 327.79999999999995v5.2M393.5 327.79999999999995v5.2" stroke="#111" stroke-width="1.15" fill="none"/>
<circle cx="380.23" cy="330.4" r="1.75" fill="#111"/>
<text x="380.23" y="325.79999999999995" text-anchor="middle" class="fv">0.52</text>
<text x="386.85" y="324.09999999999997" font-size="7.5" fill="#222" stroke="#222" stroke-width="0.25">***</text>
<path d="M380 355.9H404.4M380 353.29999999999995v5.2M404.4 353.29999999999995v5.2" stroke="#111" stroke-width="1.15" fill="none"/>
<circle cx="392.05" cy="355.9" r="1.75" fill="#111"/>
<text x="392.05" y="351.29999999999995" text-anchor="middle" class="fv">0.61</text>
<text x="398.68" y="349.59999999999997" font-size="7.5" fill="#222" stroke="#222" stroke-width="0.25">***</text>
<path d="M290.6 381.4H301.6M290.6 378.79999999999995v5.2M301.6 378.79999999999995v5.2" stroke="#111" stroke-width="1.15" fill="none"/>
<circle cx="296.13" cy="381.4" r="1.75" fill="#111"/>
<text x="296.13" y="376.79999999999995" text-anchor="middle" class="fv">-0.12</text>
<text x="305.73" y="375.09999999999997" font-size="7.5" fill="#222" stroke="#222" stroke-width="0.25">*</text>
<path d="M315.4 406.8H326.7M315.4 404.2v5.2M326.7 404.2v5.2" stroke="#111" stroke-width="1.15" fill="none"/>
<circle cx="321.10" cy="406.8" r="1.75" fill="#111"/>
<text x="321.10" y="402.2" text-anchor="middle" class="fv">0.07</text>
<path d="M330.4 432.4H338.4M330.4 429.79999999999995v5.2M338.4 429.79999999999995v5.2" stroke="#111" stroke-width="1.15" fill="none"/>
<circle cx="334.24" cy="432.4" r="1.75" fill="#111"/>
<text x="334.24" y="427.79999999999995" text-anchor="middle" class="fv">0.17</text>
<text x="340.86" y="426.09999999999997" font-size="7.5" fill="#222" stroke="#222" stroke-width="0.25">***</text>
<rect x="449.7" y="314.8" width="146.2" height="132.59999999999997" fill="#fff" stroke="#cfcfcf" stroke-width="0.7"/>
<path d="M463.05 314.8V447.4M495.90 314.8V447.4M528.75 314.8V447.4M561.60 314.8V447.4M449.7 330.4H595.9M449.7 355.9H595.9M449.7 381.4H595.9M449.7 406.8H595.9M449.7 432.4H595.9" stroke="#ececec" stroke-width="0.5" fill="none"/>
<path d="M479.47 314.8V447.4M512.32 314.8V447.4M545.17 314.8V447.4M578.02 314.8V447.4" stroke="#f3f3f3" stroke-width="0.4" fill="none"/>
<path d="M495.9 314.8V447.4" stroke="#808080" stroke-width="0.7" stroke-dasharray="0.8 1"/>
<rect x="449.7" y="304" width="146.2" height="10.800000000000011" fill="#d9d9d9" stroke="#8a8a8a" stroke-width="0.6"/>
<text x="522.8" y="312.2" text-anchor="middle" font-size="8.7" fill="#1a1a1a">PFOS</text>
<text x="419" y="312.2" font-size="8.4" font-weight="bold" fill="#111">(b)</text>
<text x="448.2" y="332.79999999999995" text-anchor="end" class="fl">TC</text>
<path d="M448.4 330.4H449.7" stroke="#555" stroke-width="0.4"/>
<text x="448.2" y="358.29999999999995" text-anchor="end" class="fl">LDL</text>
<path d="M448.4 355.9H449.7" stroke="#555" stroke-width="0.4"/>
<text x="448.2" y="383.79999999999995" text-anchor="end" class="fl">HDL</text>
<path d="M448.4 381.4H449.7" stroke="#555" stroke-width="0.4"/>
<text x="448.2" y="409.2" text-anchor="end" class="fl">TG</text>
<path d="M448.4 406.8H449.7" stroke="#555" stroke-width="0.4"/>
<text x="448.2" y="434.79999999999995" text-anchor="end" class="fl">TC:HDL</text>
<path d="M448.4 432.4H449.7" stroke="#555" stroke-width="0.4"/>
<path d="M463.05 447.4v1.3" stroke="#555" stroke-width="0.4"/>
<text x="463.05" y="454.2" text-anchor="middle" class="fl">-0.25</text>
<path d="M495.90 447.4v1.3" stroke="#555" stroke-width="0.4"/>
<text x="495.90" y="454.2" text-anchor="middle" class="fl">0.00</text>
<path d="M528.75 447.4v1.3" stroke="#555" stroke-width="0.4"/>
<text x="528.75" y="454.2" text-anchor="middle" class="fl">0.25</text>
<path d="M561.60 447.4v1.3" stroke="#555" stroke-width="0.4"/>
<text x="561.60" y="454.2" text-anchor="middle" class="fl">0.50</text>
<text x="523" y="462.59999999999997" text-anchor="middle" font-size="8.35" fill="#1a1a1a">Estimate</text>
<path d="M519.4 330.4H535.8M519.4 327.79999999999995v5.2M535.8 327.79999999999995v5.2" stroke="#111" stroke-width="1.15" fill="none"/>
<circle cx="527.44" cy="330.4" r="1.75" fill="#111"/>
<text x="527.44" y="325.79999999999995" text-anchor="middle" class="fv">0.24</text>
<text x="534.06" y="324.09999999999997" font-size="7.5" fill="#222" stroke="#222" stroke-width="0.25">***</text>
<path d="M543.8 355.9H558.4M543.8 353.29999999999995v5.2M558.4 353.29999999999995v5.2" stroke="#111" stroke-width="1.15" fill="none"/>
<circle cx="551.09" cy="355.9" r="1.75" fill="#111"/>
<text x="551.09" y="351.29999999999995" text-anchor="middle" class="fv">0.42</text>
<text x="557.71" y="349.59999999999997" font-size="7.5" fill="#222" stroke="#222" stroke-width="0.25">***</text>
<path d="M459.2 381.4H467.3M459.2 378.79999999999995v5.2M467.3 378.79999999999995v5.2" stroke="#111" stroke-width="1.15" fill="none"/>
<circle cx="463.05" cy="381.4" r="1.75" fill="#111"/>
<text x="463.05" y="376.79999999999995" text-anchor="middle" class="fv">-0.25</text>
<text x="470.75" y="375.09999999999997" font-size="7.5" fill="#222" stroke="#222" stroke-width="0.25">***</text>
<path d="M503 406.8H510.3M503 404.2v5.2M510.3 404.2v5.2" stroke="#111" stroke-width="1.15" fill="none"/>
<circle cx="506.41" cy="406.8" r="1.75" fill="#111"/>
<text x="506.41" y="402.2" text-anchor="middle" class="fv">0.08</text>
<text x="514.93" y="400.5" font-size="7.5" fill="#222" stroke="#222" stroke-width="0.25">*</text>
<path d="M518.3 432.4H523.8M518.3 429.79999999999995v5.2M523.8 429.79999999999995v5.2" stroke="#111" stroke-width="1.15" fill="none"/>
<circle cx="520.87" cy="432.4" r="1.75" fill="#111"/>
<text x="520.87" y="427.79999999999995" text-anchor="middle" class="fv">0.19</text>
<text x="527.49" y="426.09999999999997" font-size="7.5" fill="#222" stroke="#222" stroke-width="0.25">***</text>
</svg></body></html>
